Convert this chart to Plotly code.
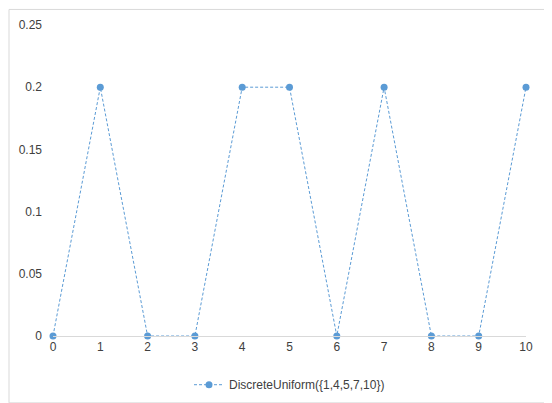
import plotly.graph_objects as go

x_vals = [0, 1, 2, 3, 4, 5, 6, 7, 8, 9, 10]
probs = [0, 0.2, 0, 0, 0.2, 0.2, 0, 0.2, 0, 0, 0.2]
series_name = "DiscreteUniform({1,4,5,7,10})"

fig = go.Figure()
fig.add_trace(go.Scatter(
    x=x_vals, y=probs, mode="lines+markers", name=series_name,
    line=dict(color="#5B9BD5", width=1, dash="3px,2px"),
    marker=dict(color="#5B9BD5", size=7),
    cliponaxis=False,
))

fig.update_layout(
    width=552, height=403,
    margin=dict(l=45, r=34, t=17, b=71),
    paper_bgcolor="white", plot_bgcolor="white",
    font=dict(family="Liberation Sans, Arial", size=12, color="#404040"),
    showlegend=True,
    legend=dict(orientation="h", x=0.5, xanchor="center", y=-0.11, yanchor="top",
                font=dict(size=12, color="#404040")),
    xaxis=dict(range=[0, 10], tickvals=x_vals, showgrid=False, zeroline=False,
               showline=True, linecolor="#D9D9D9", ticks="", automargin=False),
    yaxis=dict(range=[0, 0.25], dtick=0.05, showgrid=False, zeroline=False,
               showline=False, tickformat="~g", ticksuffix="   ", automargin=False),
)
fig.add_shape(type="rect", xref="paper", yref="paper", x0=-0.093, y0=-0.215, x1=1.07, y1=1.05,
              line=dict(color="#D9D9D9", width=1), layer="below")

fig.write_html("out.html")
